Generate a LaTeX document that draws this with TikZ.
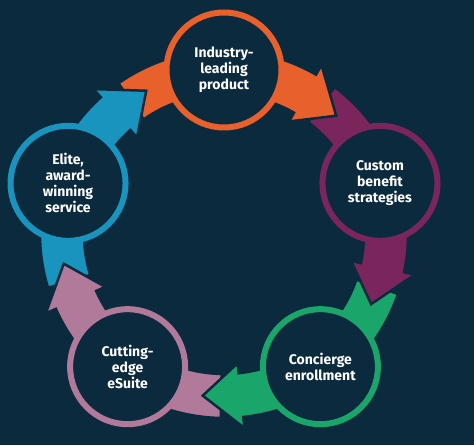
\documentclass[tikz,border=0pt]{standalone}
\usepackage{fontspec}
\setmainfont{Fira Sans}
\definecolor{bg}{RGB}{12,42,62}
\definecolor{corange}{RGB}{232,96,44}
\definecolor{cpurple}{RGB}{122,38,92}
\definecolor{cgreen}{RGB}{26,166,106}
\definecolor{cpink}{RGB}{178,122,154}
\definecolor{cblue}{RGB}{24,148,190}
\newcommand\cyclearrow[2]{%
  \filldraw[fill=#2, draw=bg, line width=2.5pt, line join=miter]
    ({#1+35}:184) arc[start angle={#1+35}, end angle={#1-30}, radius=184]
    -- ({#1-30}:195) -- ({#1-43.5}:163) -- ({#1-30}:130) -- ({#1-30}:140)
    arc[start angle={#1-30}, end angle={#1+35}, radius=140] -- cycle;}
\tikzset{
  ringnode/.style={circle, draw=#1, line width=6pt, fill=bg, minimum size=115pt,
    inner sep=0pt, text=white, align=center,
    font=\fontsize{14}{16}\selectfont\bfseries}
}
\begin{document}
\begin{tikzpicture}[x=1pt,y=1pt]
\fill[bg] (0,0) rectangle (474,445);
\useasboundingbox (0,0) rectangle (474,445);
\begin{scope}[shift={(224,211)}]
  \cyclearrow{162}{cblue}
  \cyclearrow{-126}{cpink}
  \cyclearrow{-54}{cgreen}
  \cyclearrow{18}{cpurple}
  \cyclearrow{90}{corange}
  \begin{scope}
    \clip (137:110) -- (137:215) -- (113:215) -- (113:110) -- cycle;
    \cyclearrow{162}{cblue}
  \end{scope}
  \node[ringnode=corange] (prod) at (90:164) {Industry-\\leading\\product};
  \node[ringnode=cpurple] (cust) at (18:164) {Custom\\benefit\\strategies};
  \node[ringnode=cgreen] (conc) at (-54:164) {Concierge\\enrollment};
  \node[ringnode=cpink] (cutt) at (-126:164) {Cutting-\\edge\\eSuite};
  \node[ringnode=cblue] (elit) at (162:164) {Elite,\\award-\\winning\\service};
\end{scope}
\end{tikzpicture}
\end{document}
